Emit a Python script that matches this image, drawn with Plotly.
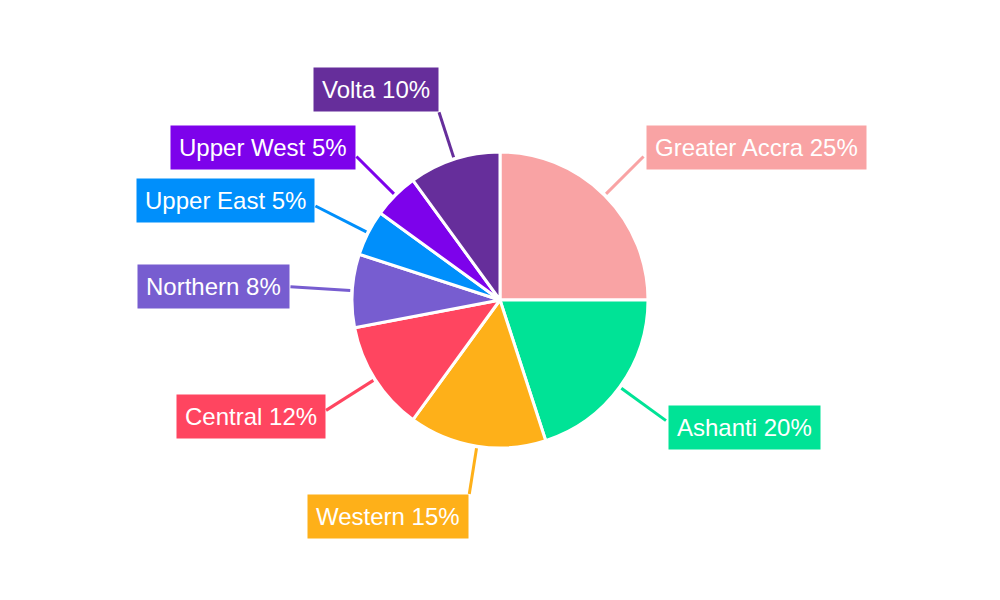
import numpy as np
import plotly.graph_objects as go

regions = ["Greater Accra", "Ashanti", "Western", "Central", "Northern", "Upper East", "Upper West", "Volta"]
shares = [25, 20, 15, 12, 8, 5, 5, 10]
colors = ["#f9a3a4", "#00e396", "#feb019", "#ff4560", "#775dd0", "#008ffb", "#7d02eb", "#662e9b"]

W, H = 1000, 600
cx, cy, r = 500, 300, 148

fig = go.Figure()
fig.add_trace(go.Pie(
    labels=regions, values=shares, sort=False, direction="clockwise", rotation=0,
    marker=dict(colors=colors, line=dict(color="white", width=3)),
    textinfo="none", hoverinfo="label+percent", showlegend=False,
    domain=dict(x=[(cx - r) / W, (cx + r) / W], y=[(H - cy - r) / H, (H - cy + r) / H]),
))

# leader lines and boxed labels, placed from each slice's mid angle
total = sum(shares)
cum = np.cumsum([0] + shares[:-1])
for name, val, start, col in zip(regions, shares, cum, colors):
    ang = 2 * np.pi * (start + val / 2) / total
    s, c = np.sin(ang), np.cos(ang)
    length = 62 - 14 * c ** 2
    x0, y0 = cx + (r + 2) * s, cy - (r + 2) * c
    x1, y1 = cx + (r + length) * s, cy - (r + length) * c
    fig.add_trace(go.Scatter(x=[x0, x1], y=[y0, y1], mode="lines",
                             line=dict(color=col, width=3), hoverinfo="skip", showlegend=False))
    if abs(c) > 0.9:
        yanchor, yshift = ("top" if c < 0 else "bottom"), 0
    else:
        yanchor, yshift = "middle", 12 * c
    fig.add_annotation(
        x=x1, y=y1, xref="x", yref="y", showarrow=False,
        text=f"{name} {val}%", xanchor="left" if s > 0 else "right", yanchor=yanchor,
        xshift=2 if s > 0 else 0, yshift=yshift,
        font=dict(family="Liberation Sans, Arial", size=24, color="white"),
        bgcolor=col, borderpad=8,
    )

fig.update_xaxes(range=[0, W], visible=False, fixedrange=True)
fig.update_yaxes(range=[H, 0], visible=False, fixedrange=True)
fig.update_layout(
    width=W, height=H, margin=dict(l=0, r=0, t=0, b=0),
    paper_bgcolor="white", plot_bgcolor="white",
)
fig.write_html("out.html", config={"displayModeBar": False},
               post_script="document.body.style.margin='0';")
